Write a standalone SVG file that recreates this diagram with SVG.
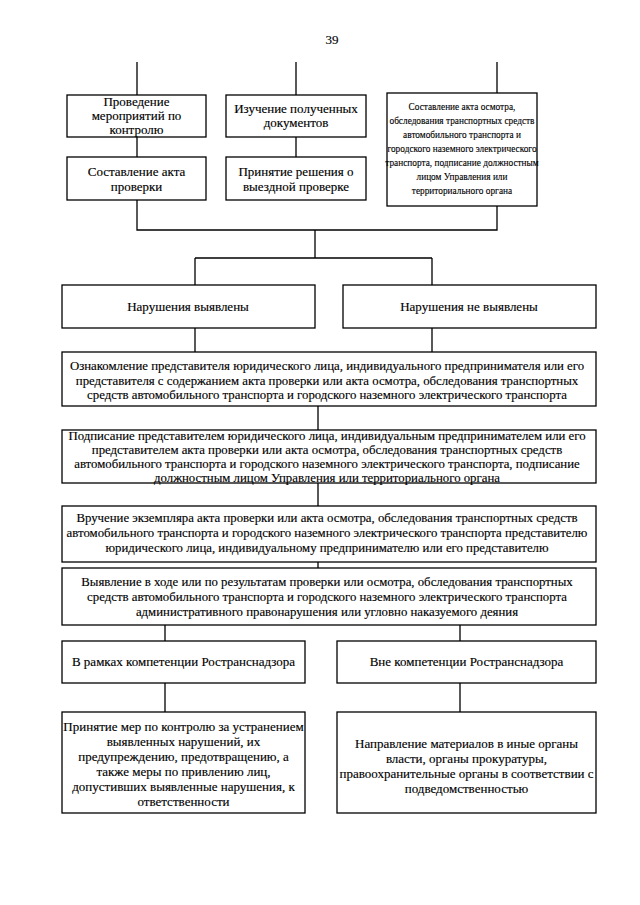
<svg xmlns="http://www.w3.org/2000/svg" width="640" height="905" viewBox="0 0 640 905">
<style>
rect{fill:#fff;stroke:#000;stroke-width:1.3}
#connectors path{fill:none;stroke:#000;stroke-width:1.3}
text{font-family:"Liberation Serif","Times New Roman",serif;font-size:13px;fill:#000;text-anchor:middle;stroke:#000;stroke-width:0.15}
.w{font-size:12.8px}
.s{font-size:9.3px;stroke-width:0.12}
</style>
<rect x="0" y="0" width="640" height="905" style="stroke:none"/>
<text x="332" y="44">39</text>
<g id="connectors">
<path d="M137 62V95M296 62V95M497 62V93"/>
<path d="M137 137V157M296 137V157"/>
<path d="M137 200V230H497V206M315 230V258M195 258H432M195 258V285M432 258V285"/>
<path d="M195 328V352M432 328V352"/>
<path d="M318 406V430M318 483V506M318 562V568"/>
<path d="M165 625V641M460 625V641M165 683V712M460 683V712"/>
</g>
<g id="n1"><rect x="67" y="95" width="139" height="42"/>
<text x="136.5" y="106">Проведение</text><text x="136.5" y="120">мероприятий по</text><text x="136.5" y="134">контролю</text></g>
<g id="n2"><rect x="67" y="157" width="139" height="43"/>
<text x="136.5" y="176">Составление акта</text><text x="136.5" y="191">проверки</text></g>
<g id="n3"><rect x="226" y="95" width="140" height="42"/>
<text x="296" y="113">Изучение полученных</text><text x="296" y="127">документов</text></g>
<g id="n4"><rect x="226" y="157" width="140" height="43"/>
<text x="296" y="176">Принятие решения о</text><text x="296" y="191">выездной проверке</text></g>
<g id="n5"><rect x="387" y="93" width="150" height="113"/>
<text class="s" x="462" y="110">Составление акта осмотра,</text>
<text class="s" x="462" y="124">обследования транспортных средств</text>
<text class="s" x="462" y="138">автомобильного транспорта и</text>
<text class="s" x="462" y="152">городского наземного электрического</text>
<text class="s" x="462" y="166">транспорта, подписание должностным</text>
<text class="s" x="462" y="180">лицом Управления или</text>
<text class="s" x="462" y="194">территориального органа</text></g>
<g id="n6"><rect x="62" y="285" width="253" height="43"/>
<text x="188" y="311">Нарушения выявлены</text></g>
<g id="n7"><rect x="343" y="285" width="253" height="43"/>
<text x="469" y="311">Нарушения не выявлены</text></g>
<g id="n8"><rect x="62" y="352" width="534" height="54"/>
<text class="w" x="327" y="370">Ознакомление представителя юридического лица, индивидуального предпринимателя или его</text>
<text class="w" x="327" y="384.5">представителя с содержанием акта проверки или акта осмотра, обследования транспортных</text>
<text class="w" x="327" y="399">средств автомобильного транспорта и городского наземного электрического транспорта</text></g>
<g id="n9"><rect x="62" y="430" width="534" height="53"/>
<text class="w" x="327" y="440">Подписание представителем юридического лица, индивидуальным предпринимателем или его</text>
<text class="w" x="327" y="454">представителем акта проверки или акта осмотра, обследования транспортных средств</text>
<text class="w" x="327" y="468">автомобильного транспорта и городского наземного электрического транспорта, подписание</text>
<text class="w" x="327" y="482">должностным лицом Управления или территориального органа</text></g>
<g id="n10"><rect x="62" y="506" width="534" height="56"/>
<text class="w" x="327" y="522">Вручение экземпляра акта проверки или акта осмотра, обследования транспортных средств</text>
<text class="w" x="327" y="537">автомобильного транспорта и городского наземного электрического транспорта представителю</text>
<text class="w" x="327" y="552">юридического лица, индивидуальному предпринимателю или его представителю</text></g>
<g id="n11"><rect x="62" y="568" width="534" height="57"/>
<text class="w" x="327" y="586">Выявление в ходе или по результатам проверки или  осмотра, обследования транспортных</text>
<text class="w" x="327" y="601">средств автомобильного транспорта и городского наземного электрического транспорта</text>
<text class="w" x="327" y="616">административного правонарушения или угловно наказуемого деяния</text></g>
<g id="n12"><rect x="62" y="641" width="243" height="42"/>
<text x="183.5" y="666">В рамках компетенции Ространснадзора</text></g>
<g id="n13"><rect x="337" y="641" width="259" height="42"/>
<text x="466.5" y="666">Вне компетенции Ространснадзора</text></g>
<g id="n14"><rect x="62" y="712" width="243" height="101"/>
<text x="183.5" y="731">Принятие мер по контролю за устранением</text>
<text x="183.5" y="746">выявленных нарушений, их</text>
<text x="183.5" y="761">предупреждению, предотвращению, а</text>
<text x="183.5" y="776">также меры по привлению лиц,</text>
<text x="183.5" y="791">допустивших выявленные нарушения, к</text>
<text x="183.5" y="806">ответственности</text></g>
<g id="n15"><rect x="337" y="712" width="259" height="101"/>
<text x="466.5" y="748">Направление материалов в иные органы</text>
<text x="466.5" y="763">власти, органы прокуратуры,</text>
<text x="466.5" y="778">правоохранительные органы в соответствии с</text>
<text x="466.5" y="793">подведомственностью</text></g>
</svg>
